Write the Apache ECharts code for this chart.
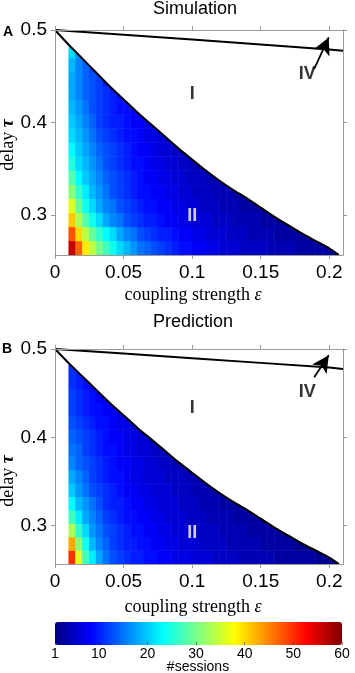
<!DOCTYPE html>
<html><head><meta charset="utf-8">
<script src="https://cdn.jsdelivr.net/npm/echarts@6/dist/echarts.min.js"></script>
<style>html,body{margin:0;padding:0;background:#fff;overflow:hidden}#c{width:355px;height:673px}</style>
</head><body><div id="c"></div>
<script>
// ---------- data ----------
const epsTicks = [0, 0.05, 0.1, 0.15, 0.2];
const tauTicks = [0.3, 0.4, 0.5];
const colorbarTicks = [1, 10, 20, 30, 40, 50, 60];
const epsMin = 0, epsMax = 0.21, tauMin = 0.2567, tauMax = 0.5;
const valueMin = 1, valueMax = 60;

// heatmap cell categories (column centres in epsilon, row centres in tau)
const cellEps = ['0.0025','0.0075','0.0125','0.0175','0.0225','0.0275','0.0325','0.0375','0.0425','0.0475',
  '0.0525','0.0575','0.0625','0.0675','0.0725','0.0775','0.0825','0.0875','0.0925','0.0975',
  '0.1025','0.1075','0.1125','0.1175','0.1225','0.1275','0.1325','0.1375','0.1425','0.1475',
  '0.1525','0.1575','0.1625','0.1675','0.1725','0.1775','0.1825','0.1875','0.1925','0.1975',
  '0.2025','0.2075'];
const cellTau = ['0.264','0.280','0.295','0.310','0.325','0.340','0.356','0.371','0.386','0.401',
  '0.416','0.432','0.447','0.462','0.477','0.492'];
const firstCellEps = '0.0125';

// #sessions, Simulation (rows bottom -> top, columns from eps = 0.0125)
const simRows = [
  [56,47,39,34,30,27,24,21,19,17,15,14,13,12,11,10,9,9,8,8,7,7,6,6,6,5,5,5,5,4,4,4,4,3,3,3,3,3,2,2],
  [48,40,34,29,26,23,21,18,16,15,13,12,11,10,10,9,8,8,7,7,6,6,6,5,5,5,4,4,4,4,3,3,3,3,3,2],
  [41,33,28,24,21,18,16,15,13,12,11,10,10,9,8,8,7,7,6,6,6,5,5,5,4,4,4,4,3,3,3,3,2],
  [36,29,24,21,18,16,15,13,12,11,10,9,9,8,8,7,7,6,6,5,5,5,4,4,4,3,3,3,3,2],
  [31,26,22,19,17,15,13,12,11,10,9,9,8,8,7,7,6,6,5,5,5,4,4,4,3,3,3],
  [28,23,20,18,16,14,13,12,11,10,9,8,8,7,7,6,6,5,5,5,4,4,3,3],
  [25,21,19,17,15,13,12,11,10,9,9,8,7,7,6,6,5,5,4,4,3],
  [23,20,18,16,14,13,12,11,10,9,8,8,7,6,6,5,5,4],
  [21,19,17,15,13,12,11,10,9,9,8,7,7,6,5],
  [20,18,16,14,12,11,10,10,9,8,8,7,6],
  [19,17,15,13,12,11,10,9,9,8,7],
  [18,16,14,13,12,11,10,9],
  [18,16,14,13,12,10],
  [19,16,14,12],
  [21,17]
];
// #sessions, Prediction
const predRows = [
  [50,36,27,22,18,15,13,12,11,10,10,9,9,8,8,7,7,7,6,6,6,5,5,5,5,4,4,4,4,4,3,3,3,3,3,3,2,2,2,2],
  [43,31,24,19,16,14,12,11,10,10,9,9,8,8,7,7,6,6,6,5,5,5,5,4,4,4,4,4,3,3,3,3,3,2,2,2],
  [33,26,21,17,15,13,12,11,10,9,9,8,8,7,7,6,6,6,5,5,5,5,4,4,4,4,3,3,3,3,3,2,2],
  [27,22,18,16,14,12,11,10,9,9,8,8,7,7,6,6,6,5,5,5,4,4,4,4,3,3,3,3,2,2],
  [23,19,17,15,13,11,10,10,9,8,8,7,7,6,6,6,5,5,5,4,4,4,3,3,3,3,2],
  [20,17,15,13,12,11,10,9,8,8,7,7,6,6,6,5,5,5,4,4,4,3,3,3],
  [18,16,14,12,11,10,9,9,8,7,7,6,6,6,5,5,5,4,4,3,3],
  [16,14,13,12,11,10,9,8,8,7,7,6,6,5,5,4,4,3],
  [15,14,12,11,10,9,9,8,7,7,6,6,5,5,4],
  [14,13,12,11,10,9,8,8,7,7,6,6,5],
  [13,12,11,10,9,9,8,7,7,6,6],
  [12,11,10,9,9,8,8,7],
  [12,11,10,9,8,8],
  [11,10,9,8],
  [11,10]
];

// boundary between regions I and II
const boundaryEps = [0, 0.01, 0.02, 0.03, 0.04, 0.05, 0.06, 0.07, 0.08, 0.09, 0.10, 0.11, 0.12, 0.13, 0.14, 0.15, 0.16, 0.17, 0.18, 0.19, 0.20, 0.207];
const boundaryTau = [0.5, 0.484, 0.469, 0.454, 0.439, 0.425, 0.411, 0.398, 0.385, 0.372, 0.360, 0.348, 0.337, 0.327, 0.318, 0.308, 0.298, 0.289, 0.280, 0.272, 0.264, 0.2567];
// upper boundary (region IV)
const topEps = [0, 0.05, 0.1, 0.15, 0.2, 0.21];
const topTau = [0.5, 0.4948, 0.4896, 0.4843, 0.479, 0.4775];

// region labels
const regionNames = ['I', 'II', 'IV'];
const regionEps = [0.1, 0.1, 0.184];
const regionTauA = [0.431, 0.299, 0.452];
const regionTauB = [0.433, 0.292, 0.451];
// arrow to region IV
const arrowEps = [0.189, 0.1996];
const arrowTauA = [0.458, 0.492];
const arrowTauB = [0.468, 0.493];

// ---------- chart ----------
const SANS = 'Liberation Sans', SERIF = 'Liberation Serif';
const AX = '#9a9a9a';
const jet = ['#000080','#0000ff','#0080ff','#00ffff','#80ff80','#ffff00','#ff8000','#ff0000','#800000'];

function valueX(gi, pos, show) {
  return {type:'value', gridIndex:gi, position:pos, min:epsMin, max:epsMax, z:6,
    axisLine:{show:true, onZero:false, lineStyle:{color:AX, width:1}},
    axisTick:{show:true, inside:false, length:4, customValues:epsTicks, lineStyle:{color:AX}},
    axisLabel:{show:show, customValues:epsTicks, margin:8, color:'#000', fontSize:19, fontFamily:SANS, formatter:v=>String(v)},
    splitLine:{show:false}};
}
function valueY(gi, pos, show) {
  return {type:'value', gridIndex:gi, position:pos, min:tauMin, max:tauMax, z:6,
    axisLine:{show:true, onZero:false, lineStyle:{color:AX, width:1}},
    axisTick:{show:true, inside:false, length:4, customValues:tauTicks, lineStyle:{color:AX}},
    axisLabel:{show:show, customValues:tauTicks, margin:8, color:'#000', fontSize:19, fontFamily:SANS, formatter:v=>v.toFixed(1)},
    splitLine:{show:false}};
}
function catX(gi){ return {type:'category', gridIndex:gi, data:cellEps, show:false}; }
function catY(gi){ return {type:'category', gridIndex:gi, data:cellTau, show:false}; }

const c0 = cellEps.indexOf(firstCellEps);
function heatData(rows){
  const d = [];
  rows.forEach((row,i)=>row.forEach((v,k)=>d.push([k+c0, i, v])));
  return d;
}
const pairs = (xs, ys) => xs.map((x,i)=>[x, ys[i]]);
const maskData = pairs(boundaryEps, boundaryTau).concat([[epsMax, tauMin]]);

function panelSeries(xi, yi, rows, labTau, arrTau){
  return [
    {type:'heatmap', xAxisIndex:xi+2, yAxisIndex:yi+2, data:heatData(rows), z:1, progressive:0,
     itemStyle:{borderWidth:0}, emphasis:{disabled:true}, silent:true},
    {type:'line', xAxisIndex:xi, yAxisIndex:yi, data:maskData, symbol:'none', silent:true, z:3,
     lineStyle:{width:0, opacity:0}, areaStyle:{color:'#fff', opacity:1, origin:'end'}},
    {type:'line', xAxisIndex:xi, yAxisIndex:yi, data:pairs(boundaryEps, boundaryTau), symbol:'none', silent:true, z:4,
     smooth:0.2, lineStyle:{color:'#000', width:2}},
    {type:'line', xAxisIndex:xi, yAxisIndex:yi, data:pairs(topEps, topTau), symbol:'none', silent:true, z:4,
     lineStyle:{color:'#000', width:2},
     markLine:{silent:true, symbol:['none','arrow'], symbolSize:[13,17], label:{show:false},
       lineStyle:{color:'#000', width:1.8, type:'solid'}, emphasis:{disabled:true},
       data:[[{coord:[arrowEps[0], arrTau[0]]},{coord:[arrowEps[1], arrTau[1]]}]]}},
    {type:'scatter', xAxisIndex:xi, yAxisIndex:yi, symbolSize:2, itemStyle:{color:'rgba(0,0,0,0)'}, silent:true, z:5,
     label:{show:true, position:'inside', fontSize:18, fontWeight:'bold', fontFamily:SANS},
     data:regionNames.map((n,i)=>({value:[regionEps[i], labTau[i]], label:{color:n==='II'?'#fff':'#000', formatter:n}}))}
  ];
}

const series = [].concat(
  panelSeries(0, 0, simRows, regionTauA, arrowTauA),
  panelSeries(3, 3, predRows, regionTauB, arrowTauB)
);

function txt(x, y, text, font){
  return {type:'text', x:x, y:y, silent:true,
    style:{text:text, font:font, fill:'#000', align:'center', verticalAlign:'middle'}};
}
function richTxt(x, y, text, rot){
  return {type:'text', x:x, y:y, rotation:rot||0, silent:true,
    style:{text:text, align:'center', verticalAlign:'middle', fill:'#000',
      rich:{a:{font:'18px "'+SERIF+'"', fill:'#000'}, b:{font:'italic bold 18px "'+SERIF+'"', fill:'#000'},
            c:{font:'italic 18px "'+SERIF+'"', fill:'#000'}}}};
}

const option = {
  animation:false,
  backgroundColor:'#fff',
  grid:[
    {left:55, top:30, width:288, height:225},
    {left:55, top:349, width:288, height:215},
    {left:55, top:622, width:287, height:23}
  ],
  xAxis:[
    valueX(0,'bottom',true), valueX(0,'top',false), catX(0),
    valueX(1,'bottom',true), valueX(1,'top',false), catX(1),
    {type:'value', gridIndex:2, min:valueMin, max:valueMax, position:'bottom', z:6,
     axisLine:{show:false, onZero:false},
     axisTick:{show:true, inside:true, length:3, customValues:colorbarTicks, lineStyle:{color:'rgba(0,0,0,0.45)'}},
     splitLine:{show:false},
     axisLabel:{customValues:colorbarTicks, margin:2, fontSize:14, color:'#000', fontFamily:SANS}}
  ],
  yAxis:[
    valueY(0,'left',true), valueY(0,'right',false), catY(0),
    valueY(1,'left',true), valueY(1,'right',false), catY(1),
    {type:'value', gridIndex:2, show:false, min:0, max:1}
  ],
  visualMap:{type:'continuous', min:valueMin, max:valueMax, seriesIndex:[0,5], orient:'horizontal',
    left:55, top:622, padding:0, itemWidth:23, itemHeight:287, calculable:false, realtime:false,
    inRange:{color:jet}, textStyle:{color:'#000'}},
  series:series,
  graphic:[
    txt(195, 9, 'Simulation', '18px "'+SANS+'"'),
    txt(193, 322, 'Prediction', '18px "'+SANS+'"'),
    txt(8, 32, 'A', 'bold 14px "'+SANS+'"'),
    txt(7, 349, 'B', 'bold 14px "'+SANS+'"'),
    richTxt(8, 145, '{a|delay }{b|τ}', Math.PI/2),
    richTxt(8, 481, '{a|delay }{b|τ}', Math.PI/2),
    richTxt(193, 295, '{a|coupling strength }{c|ε}'),
    richTxt(193, 607, '{a|coupling strength }{c|ε}'),
    txt(198, 667, '#sessions', '14px "'+SANS+'"')
  ]
};
const chart = echarts.init(document.getElementById('c'), null, {renderer:'canvas'});
chart.setOption(option);
</script>
</body></html>
